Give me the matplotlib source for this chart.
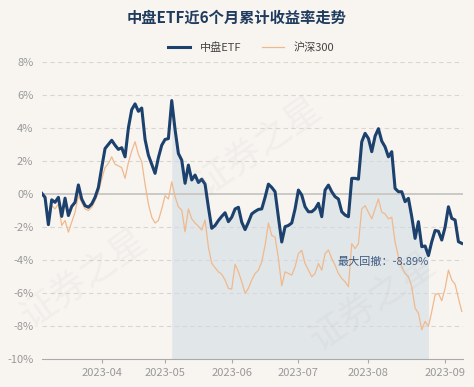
import numpy as np
import pandas as pd
import matplotlib
matplotlib.use("Agg")
import matplotlib.pyplot as plt

plt.rcParams['font.family'] = ['Noto Sans CJK SC', 'DejaVu Sans']

# trading days (Shanghai), holidays removed
holidays = ['2023-04-05', '2023-05-01', '2023-05-02', '2023-05-03', '2023-06-22', '2023-06-23']
dates = pd.bdate_range('2023-03-08', '2023-09-08')
dates = dates[~dates.isin(pd.to_datetime(holidays))]

etf = [0.05, -0.2, -1.85, -0.35, -0.5, -0.2, -1.35, -0.25, -1.3, -0.75,
       -0.5, 0.55, -0.3, -0.7, -0.8, -0.6, -0.2, 0.4, 1.6, 2.75,
       3.0, 3.25, 2.95, 2.7, 2.8, 2.25, 4.0, 5.1, 5.45, 5.0,
       5.2, 3.3, 2.35, 1.8, 1.25, 2.2, 2.95, 3.3, 3.35, 5.65,
       3.9, 2.45, 2.05, 0.65, 1.75, 0.85, 1.15, 0.7, 0.9, 0.6,
       -0.8, -2.07, -1.9, -1.6, -1.35, -1.13, -1.67, -1.4, -0.9, -0.8,
       -1.7, -2.15, -1.7, -1.2, -1.05, -0.93, -0.9, -0.2, 0.6, 0.4,
       0.14, -1.4, -2.9, -1.97, -1.9, -1.75, -0.9, 0.24, -0.06, -0.77,
       -1.07, -1.07, -0.9, -0.56, -1.37, 0.24, 0.54, 0.14, -0.16, -0.3,
       -1.07, -1.27, -1.37, 0.95, 0.95, 0.9, 3.16, 3.67, 3.36, 2.56,
       3.5, 3.95, 3.2, 2.85, 2.25, 2.56, 0.34, 0.14, 0.14, -0.46,
       -0.26, -1.37, -2.68, -1.67, -3.18, -3.14, -3.72, -2.88, -2.2, -2.25,
       -2.78, -2.0, -0.77, -1.47, -1.57, -2.88, -2.98]

hs300 = [0.0, -0.3, -1.3, -0.7, -0.9, -0.6, -1.9, -1.6, -2.3, -1.7,
         -1.1, -0.1, -0.5, -0.9, -1.0, -0.8, -0.4, 0.1, 0.9, 1.6,
         1.85, 2.25, 1.8, 1.7, 1.6, 0.95, 1.9, 2.6, 3.16, 2.4,
         1.95, 0.6, -0.6, -1.4, -1.75, -1.6, -0.9, -0.1, -0.3, 0.74,
         -0.16, -0.77, -0.97, -2.28, -0.9, -1.5, -1.75, -1.95, -2.18, -1.57,
         -3.2, -4.19, -4.45, -4.7, -4.85, -5.2, -5.7, -5.75, -4.25, -4.7,
         -5.3, -6.0, -5.7, -5.2, -4.8, -4.6, -4.1, -3.1, -1.75, -2.5,
         -2.6, -3.9, -5.55, -4.7, -4.8, -4.9, -4.4, -3.6, -3.4, -4.2,
         -4.6, -5.0, -4.8, -4.2, -4.6, -3.6, -3.38, -3.9, -4.3, -4.8,
         -5.1, -5.3, -5.6, -3.0, -3.3, -3.0, -0.9, -0.7, -1.1, -1.5,
         -0.9, -0.3, -1.1, -1.2, -1.5, -1.4, -2.9, -3.8, -4.4, -4.8,
         -5.0, -5.6, -6.9, -7.2, -8.2, -7.7, -8.0, -7.1, -6.1, -6.0,
         -6.45, -5.7, -4.6, -5.2, -5.45, -6.3, -7.1]

dd_start, dd_end = '2023-05-08', '2023-08-25'
dd_label = '最大回撤：-8.89%'
month_labels = ['2023-04', '2023-05', '2023-06', '2023-07', '2023-08', '2023-09']

bg = '#f8f5f1'
navy = '#1c416d'
orange = '#f0b98c'

x = np.arange(len(dates))
fig = plt.figure(figsize=(4.74, 3.87), dpi=100, facecolor=bg)
ax = fig.add_axes([0.088, 0.0711, 0.889, 0.7695], facecolor=bg)

# faint watermark
for wx, wy in [(0.03, 0.28), (0.40, 0.62), (0.64, 0.22)]:
    fig.text(wx, wy, '证券之星', fontsize=26, color='#b0b0b0', alpha=0.10,
             rotation=35, ha='left', va='center')

i0 = dates.get_loc(pd.Timestamp(dd_start))
i1 = dates.get_loc(pd.Timestamp(dd_end))
ax.fill_between(x[i0:i1 + 1], etf[i0:i1 + 1], -10, color='#d3dce5', alpha=0.6, lw=0, zorder=1)

for v in range(-8, 9, 2):
    if v != 0:
        ax.axhline(v, color='#d9d6d2', lw=0.8, ls=(0, (4, 3)), zorder=0)
ax.axhline(0, color='#c8c6c3', lw=1.3, zorder=1)

ax.plot(x, hs300, color=orange, lw=0.9, zorder=2, label='沪深300')
ax.plot(x, etf, color=navy, lw=2.2, zorder=3, label='中盘ETF')

ax.text(i1, -4.1, dd_label, fontsize=8, color='#3e5b80', ha='right', va='center', zorder=4)

ax.set_xlim(0, len(dates) - 0.6)
ax.set_ylim(-10, 8)
ax.set_yticks(range(-10, 9, 2))
ax.set_yticklabels([f'{v}%' for v in range(-10, 9, 2)])

tick_pos = [int(np.argmax(dates.strftime('%Y-%m') == m)) for m in month_labels]
ax.set_xticks(tick_pos)
ax.set_xticklabels(month_labels)

for s in ['top', 'right', 'left']:
    ax.spines[s].set_visible(False)
ax.spines['bottom'].set_color('#aaaaaa')
ax.tick_params(axis='y', length=0, labelsize=8, labelcolor='#999999', pad=6)
ax.tick_params(axis='x', length=3, color='#aaaaaa', labelsize=8, labelcolor='#999999', pad=3)

fig.text(0.5, 0.955, '中盘ETF近6个月累计收益率走势', fontsize=11, fontweight='bold',
         color='#1f3b5e', ha='center', va='center')

h, l = ax.get_legend_handles_labels()
fig.legend(h[::-1], l[::-1], loc='center', bbox_to_anchor=(0.53, 0.878), ncol=2,
           frameon=False, fontsize=8, handlelength=2.0, handletextpad=0.9,
           columnspacing=1.8, labelcolor='#444444')

fig.savefig('out.png', dpi=100, facecolor=bg)
